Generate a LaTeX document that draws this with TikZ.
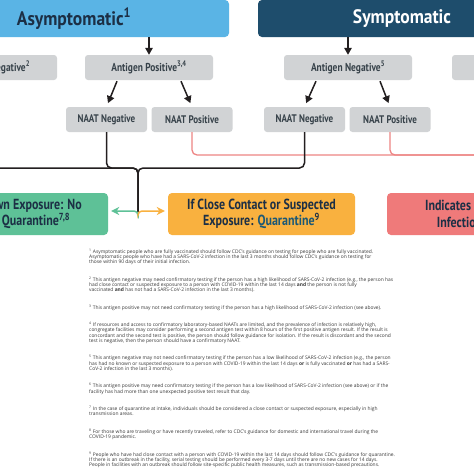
\documentclass[tikz,border=0pt]{standalone}
\usepackage{fontspec}
\setmainfont{Open Sans}
\newfontfamily\boxfont[FakeStretch=0.82]{PT Sans}
\newfontfamily\topfont[FakeStretch=0.9]{PT Sans}
\usetikzlibrary{arrows.meta}
\definecolor{lblue}{HTML}{5AB4E5}
\definecolor{dblue}{HTML}{1E4D6C}
\definecolor{gbox}{HTML}{D1D3D5}
\definecolor{gtext}{HTML}{37424A}
\definecolor{ngreen}{HTML}{5EC197}
\definecolor{norange}{HTML}{F9B13F}
\definecolor{nred}{HTML}{EF7A7A}
\definecolor{redline}{HTML}{EE8584}
\definecolor{ink}{HTML}{231F20}
\definecolor{navytext}{HTML}{1C2F45}
\definecolor{quar}{HTML}{1B5876}
\definecolor{fntext}{HTML}{3A3A3A}
\tikzset{
  topbox/.style={rectangle, rounded corners=4pt, inner sep=0pt, minimum height=37pt,
    font=\topfont\bfseries\fontsize{19.5}{21}\selectfont},
  agbox/.style={rectangle, rounded corners=3pt, fill=gbox, text=gtext, inner sep=0pt,
    minimum width=128pt, minimum height=25pt, font=\boxfont\bfseries\fontsize{11.5}{13}\selectfont},
  naatbox/.style={rectangle, rounded corners=3pt, fill=gbox, text=gtext, inner sep=0pt,
    minimum width=81pt, minimum height=25pt, font=\boxfont\bfseries\fontsize{11}{13}\selectfont},
  outbox/.style={rectangle, rounded corners=4pt, inner sep=0pt, text=navytext, align=center,
    minimum width=187pt, minimum height=42pt, font=\boxfont\bfseries\fontsize{14.6}{16.5}\selectfont},
  blk/.style={draw=ink, line width=1.5pt, rounded corners=5pt},
  redl/.style={draw=redline, line width=1.3pt, rounded corners=5pt},
  darr/.style={draw=ink, line width=1.5pt, -{Triangle[length=7pt,width=7.5pt]}},
  fn/.style={anchor=north west, inner sep=0pt, align=left, text=fntext,
    font=\fontsize{4.9}{5.2}\selectfont},
}
\begin{document}
\begin{tikzpicture}[x=1pt,y=-1pt]
\useasboundingbox (0,0) rectangle (474,474);
\clip (0,0) rectangle (474,474);
\fill[white] (0,0) rectangle (474,474);

% top boxes
\node[topbox, fill=lblue, text=navytext, minimum width=310pt] (asym) at (74,18.5) {Asymptomatic\textsuperscript{1}};
\node[topbox, fill=dblue, text=white, minimum width=288pt] (symp) at (402,18.5) {Symptomatic};

% antigen boxes
\node[agbox] (agneg2) at (-7,67.5) {Antigen Negative\textsuperscript{2}};
\node[agbox] (agpos34) at (149,67.5) {Antigen Positive\textsuperscript{3,4}};
\node[agbox] (agneg5) at (348,67.5) {Antigen Negative\textsuperscript{5}};
\node[agbox] (agpos6) at (516,67.5) {Antigen Positive\textsuperscript{6}};

% NAAT boxes
\node[naatbox] (aneg) at (106.5,119.5) {NAAT Negative};
\node[naatbox] (apos) at (192,119.5) {NAAT Positive};
\node[naatbox] (sneg) at (304.5,119.5) {NAAT Negative};
\node[naatbox] (spos) at (390,119.5) {NAAT Positive};

% outcome boxes
\node[outbox, fill=ngreen] (green) at (14.5,214) {If No Known Exposure: No\\Need to Quarantine\textsuperscript{7,8}};
\node[outbox, fill=norange] (orange) at (261.5,214) {If Close Contact or Suspected\\Exposure: \textcolor{quar}{Quarantine}\textsuperscript{9}};
\node[outbox, fill=nred] (red) at (480.5,214) {Indicates SARS-CoV-2\\Infection: Isolate};

% top arrows
\draw[darr] (agpos34.north |- asym.south) -- (agpos34.north);
\draw[darr] (agneg2.north |- asym.south) -- (agneg2.north);
\draw[darr] (agneg5.north |- symp.south) -- (agneg5.north);
\draw[darr] (agpos6.north |- symp.south) -- (agpos6.north);

% antigen to NAAT arrows
\draw[darr, shorten >=4pt] ([xshift=-32pt,yshift=-1pt]agpos34.south) -- (aneg.north);
\draw[darr, shorten >=4pt] ([xshift=32pt,yshift=-1pt]agpos34.south) -- (apos.north);
\draw[darr, shorten >=4pt] ([xshift=-32pt,yshift=-1pt]agneg5.south) -- (sneg.north);
\draw[darr, shorten >=4pt] ([xshift=32pt,yshift=-1pt]agneg5.south) -- (spos.north);

% coordinates for joins
\coordinate (leftin) at (-10,168);
\coordinate (split) at (138,212);
\coordinate (redout) at (490,155);

% red lines
\draw[redl] (apos.south) |- (redout);
\draw[redl] (spos.south) |- (redout);

% black merging lines
\draw[blk] (leftin) -| (split);
\draw[blk] (aneg.south) |- (138,168) -- (split);
\draw[blk] (sneg.south) |- (138,168) -- (split);

% split arrows
\draw[draw=ngreen, line width=1.5pt, rounded corners=4pt, -{Stealth[length=8pt,width=8pt]}, shorten >=3pt]
  ([yshift=-2pt]split) |- ([yshift=3pt]green.east);
\draw[draw=norange, line width=1.5pt, rounded corners=4pt, -{Stealth[length=8pt,width=8pt]}, shorten >=3pt]
  ([yshift=-2pt]split) |- ([yshift=3pt]orange.west);

% footnotes
\node[fn] (fn1) at (89,248.4) {\textsuperscript{1} Asymptomatic people who are fully vaccinated should follow CDC's guidance on testing for people who are fully vaccinated.\\Asymptomatic people who have had a SARS-CoV-2 infection in the last 3 months should follow CDC's guidance on testing for\\those within 90 days of their initial infection.};
\node[fn] (fn2) at (89,276.4) {\textsuperscript{2} This antigen negative may need confirmatory testing if the person has a high likelihood of SARS-CoV-2 infection (e.g., the person has\\had close contact or suspected exposure to a person with COVID-19 within the last 14 days \textbf{and} the person is not fully\\vaccinated \textbf{and} has not had a SARS-CoV-2 infection in the last 3 months).};
\node[fn] (fn3) at (89,304.4) {\textsuperscript{3} This antigen positive may not need confirmatory testing if the person has a high likelihood of SARS-CoV-2 infection (see above).};
\node[fn] (fn4) at (89,322) {\textsuperscript{4} If resources and access to confirmatory laboratory-based NAATs are limited, and the prevalence of infection is relatively high,\\congregate facilities may consider performing a second antigen test within 8 hours of the first positive antigen result. If the result is\\concordant and the second test is positive, the person should follow guidance for isolation. If the result is discordant and the second\\test is negative, then the person should have a confirmatory NAAT.};
\node[fn] (fn5) at (89,355.2) {\textsuperscript{5} This antigen negative may not need confirmatory testing if the person has a low likelihood of SARS-CoV-2 infection (e.g., the person\\has had no known or suspected exposure to a person with COVID-19 within the last 14 days \textbf{or} is fully vaccinated \textbf{or} has had a SARS-\\CoV-2 infection in the last 3 months).};
\node[fn] (fn6) at (89,383.2) {\textsuperscript{6} This antigen positive may need confirmatory testing if the person has a low likelihood of SARS-CoV-2 infection (see above) or if the\\facility has had more than one unexpected positive test result that day.};
\node[fn] (fn7) at (89,406) {\textsuperscript{7} In the case of quarantine at intake, individuals should be considered a close contact or suspected exposure, especially in high\\transmission areas.};
\node[fn] (fn8) at (89,428.8) {\textsuperscript{8} For those who are traveling or have recently traveled, refer to CDC's guidance for domestic and international travel during the\\COVID-19 pandemic.};
\node[fn] (fn9) at (89,451.6) {\textsuperscript{9} People who have had close contact with a person with COVID-19 within the last 14 days should follow CDC's guidance for quarantine.\\If there is an outbreak in the facility, serial testing should be performed every 3-7 days until there are no new cases for 14 days.\\People in facilities with an outbreak should follow site-specific public health measures, such as transmission-based precautions.};
\end{tikzpicture}
\end{document}
